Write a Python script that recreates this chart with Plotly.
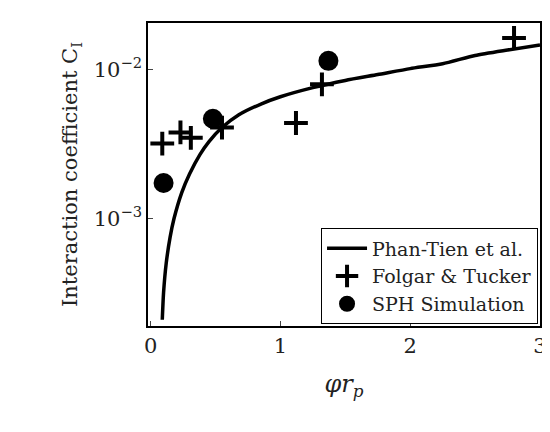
import plotly.graph_objects as go

curve_x = [0.09, 0.1, 0.12, 0.15, 0.18, 0.24, 0.3, 0.38, 0.45, 0.55, 0.68, 0.85, 1.0, 1.25, 1.5, 1.75, 2.0, 2.25, 2.5, 2.75, 3.0]
curve_y = [2.1e-4, 3.2e-4, 5e-4, 7.5e-4, 1e-3, 1.5e-3, 2e-3, 2.7e-3, 3.3e-3, 4.1e-3, 5e-3, 5.9e-3, 6.6e-3, 7.6e-3, 8.5e-3, 9.3e-3, 1.02e-2, 1.1e-2, 1.25e-2, 1.36e-2, 1.47e-2]
ft_x = [0.09, 0.23, 0.31, 0.55, 1.12, 1.32, 2.8]
ft_y = [3.2e-3, 3.8e-3, 3.5e-3, 4.1e-3, 4.4e-3, 8.0e-3, 1.64e-2]
sph_x = [0.1, 0.48, 1.37]
sph_y = [1.74e-3, 4.7e-3, 1.15e-2]

font = dict(family="DejaVu Serif", size=19, color="#222")
fig = go.Figure()
fig.add_trace(go.Scatter(x=curve_x, y=curve_y, mode="lines", line=dict(color="black", width=3.5, shape="spline", smoothing=0.6), name="Phan-Tien et al."))
fig.add_trace(go.Scatter(x=ft_x, y=ft_y, mode="markers", marker=dict(symbol="cross-thin", size=17, line=dict(width=4, color="black"), color="black"), name="Folgar & Tucker"))
fig.add_trace(go.Scatter(x=sph_x, y=sph_y, mode="markers", marker=dict(symbol="circle", size=20, color="black"), name="SPH Simulation"))
fig.update_layout(
    width=550, height=432, margin=dict(l=140, r=18, t=15, b=114), autosize=False,
    plot_bgcolor="white", paper_bgcolor="white", font=font,
    legend=dict(x=0.995, y=0.005, xanchor="right", yanchor="bottom", bordercolor="black", borderwidth=1, bgcolor="white",
                font=dict(family="DejaVu Serif", size=19, color="#222"), tracegroupgap=0, itemwidth=40),
)
fig.update_xaxes(range=[-0.02, 3], tickvals=[0, 1, 2, 3], showgrid=False, zeroline=False, showline=True, linecolor="black", linewidth=1.5, mirror=True, ticks="inside", ticklen=5,
                 tickfont=dict(size=21), title=dict(text="<i>φr<sub>p</sub></i>", font=dict(family="DejaVu Serif", size=24), standoff=18))
fig.update_yaxes(type="log", range=[-3.72, -1.685], tickvals=[1e-3, 1e-2], ticktext=["10<sup>−3</sup>", "10<sup>−2</sup>"], showgrid=False, showline=True, linecolor="black", linewidth=1.5, mirror=True, ticks="inside", ticklen=5,
                 tickfont=dict(size=21), title=dict(text="Interaction coefficient C<sub>I</sub>", font=dict(family="DejaVu Serif", size=21), standoff=10))
fig.write_html("out.html")
